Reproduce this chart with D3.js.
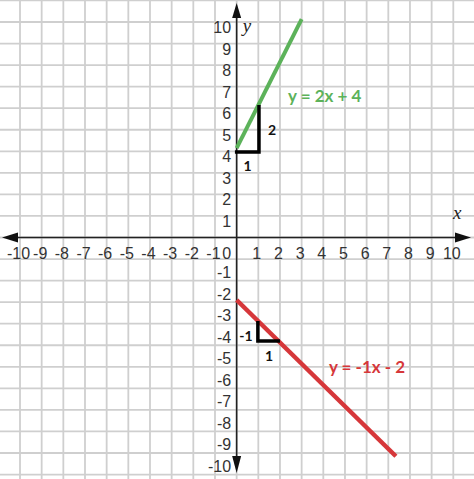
<!DOCTYPE html>
<html>
<head>
<meta charset="utf-8">
<script src="https://cdn.jsdelivr.net/npm/d3@7"></script>
<style>
  body { margin: 0; background: #fff; }
  svg { display: block; }
</style>
</head>
<body>
<svg id="graph"></svg>
<script>
const width = 474;
const height = 479;

// values (grid units)
const xTicks = [-10, -9, -8, -7, -6, -5, -4, -3, -2, -1, 1, 2, 3, 4, 5, 6, 7, 8, 9, 10];
const yTicks = [-10, -9, -8, -7, -6, -5, -4, -3, -2, -1, 1, 2, 3, 4, 5, 6, 7, 8, 9, 10];
const gridValues = [-11, -10, -9, -8, -7, -6, -5, -4, -3, -2, -1, 0, 1, 2, 3, 4, 5, 6, 7, 8, 9, 10, 11];

const greenLine = [[0, 4.15], [3, 10.13]];
const greenStep = [[-0.08, 3.97], [1.03, 3.97], [1.03, 6.15]];
const redLine = [[0, -2.9], [7.35, -10.15]];
const redStep = [[0.98, -3.87], [0.98, -4.8], [2.0, -4.8]];

const greenText = "y = 2x + 4";
const redText = "y = -1x - 2";

const svg = d3.select("#graph").attr("width", width).attr("height", height);

const x = d3.scaleLinear().domain([-10, 10]).range([20, 453.3]);
const y = d3.scaleLinear().domain([-10, 10]).range([453, 22]);

const line = d3.line().x(d => x(d[0])).y(d => y(d[1]));

// grille
svg.append("g")
  .selectAll("line.v")
  .data(gridValues)
  .enter()
  .append("line")
  .attr("x1", d => x(d)).attr("x2", d => x(d))
  .attr("y1", 0).attr("y2", height)
  .attr("stroke", "#cfcfcf")
  .attr("stroke-width", 1.8);

svg.append("g")
  .selectAll("line.h")
  .data(gridValues)
  .enter()
  .append("line")
  .attr("y1", d => y(d)).attr("y2", d => y(d))
  .attr("x1", 0).attr("x2", width)
  .attr("stroke", "#cfcfcf")
  .attr("stroke-width", 1.8);

// axes
const x0 = x(0), y0 = y(0);
svg.append("line")
  .attr("x1", 10).attr("x2", 462).attr("y1", y0).attr("y2", y0)
  .attr("stroke", "#222").attr("stroke-width", 1.6);
svg.append("line")
  .attr("x1", x0).attr("x2", x0).attr("y1", 10).attr("y2", 464)
  .attr("stroke", "#222").attr("stroke-width", 1.6);

// flèches
const arrows = [
  [[2, y0], [18, y0 - 5], [18, y0 + 5]],
  [[471, y0], [455, y0 - 5], [455, y0 + 5]],
  [[x0, 3], [x0 - 4.5, 18], [x0 + 4.5, 18]],
  [[x0, 473], [x0 - 4.5, 456], [x0 + 4.5, 456]]
];
svg.selectAll("path.arrow")
  .data(arrows)
  .enter()
  .append("path")
  .attr("d", d => "M" + d.join("L") + "Z")
  .attr("fill", "#111");

// étiquettes
const tickFont = "'Liberation Sans', Arial, sans-serif";
svg.append("g")
  .selectAll("text")
  .data(xTicks)
  .enter()
  .append("text")
  .attr("x", d => x(d) - 1.5)
  .attr("y", y0 + 21.5)
  .attr("text-anchor", "middle")
  .attr("font-family", tickFont)
  .attr("font-size", 16)
  .attr("fill", "#333")
  .text(d => d);

svg.append("g")
  .selectAll("text")
  .data(yTicks)
  .enter()
  .append("text")
  .attr("x", x0 - 5.5)
  .attr("y", d => y(d) + (d > 0 ? 11 : 19))
  .attr("text-anchor", "end")
  .attr("font-family", tickFont)
  .attr("font-size", 16)
  .attr("fill", "#333")
  .text(d => d);

svg.append("text")
  .attr("x", x0 - 5.5).attr("y", y0 + 21)
  .attr("text-anchor", "end")
  .attr("font-family", tickFont).attr("font-size", 16).attr("fill", "#333")
  .text("0");

svg.append("text")
  .attr("x", x0 + 6).attr("y", 32)
  .attr("font-family", "'Liberation Serif', serif").attr("font-style", "italic")
  .attr("font-size", 19).attr("fill", "#222")
  .text("y");
svg.append("text")
  .attr("x", 453).attr("y", 219)
  .attr("font-family", "'Liberation Serif', serif").attr("font-style", "italic")
  .attr("font-size", 19).attr("fill", "#222")
  .text("x");

// droites
svg.append("path")
  .attr("d", line(greenLine))
  .attr("fill", "none").attr("stroke", "#5cb25a").attr("stroke-width", 4);
svg.append("path")
  .attr("d", line(redLine))
  .attr("fill", "none").attr("stroke", "#d6373a").attr("stroke-width", 4.5);

svg.append("path")
  .attr("d", line(greenStep))
  .attr("fill", "none").attr("stroke", "#000").attr("stroke-width", 3.5);
svg.append("path")
  .attr("d", line(redStep))
  .attr("fill", "none").attr("stroke", "#000").attr("stroke-width", 3.5);

const boldFont = "Lato, 'Open Sans', sans-serif";
const stepLabels = [
  { t: "1", px: x(0.5), py: y(3.97) + 19 },
  { t: "2", px: x(1.03) + 13, py: y(5.05) + 6 },
  { t: "-1", px: x(0.98) - 12, py: y(-4.35) + 10 },
  { t: "1", px: x(1.5), py: y(-4.8) + 20 }
];
svg.selectAll("text.step")
  .data(stepLabels)
  .enter()
  .append("text")
  .attr("x", d => d.px).attr("y", d => d.py)
  .attr("text-anchor", "middle")
  .attr("font-family", boldFont).attr("font-weight", "bold")
  .attr("font-size", 14).attr("fill", "#111")
  .text(d => d.t);

svg.append("text")
  .attr("x", x(2.37)).attr("y", y(6.29))
  .attr("font-family", boldFont).attr("font-weight", "bold")
  .attr("font-size", 17).attr("fill", "#5cb25a")
  .text(greenText);
svg.append("text")
  .attr("x", x(4.26)).attr("y", y(-6.29))
  .attr("font-family", boldFont).attr("font-weight", "bold")
  .attr("font-size", 17).attr("fill", "#d6373a")
  .text(redText);
</script>
</body>
</html>
